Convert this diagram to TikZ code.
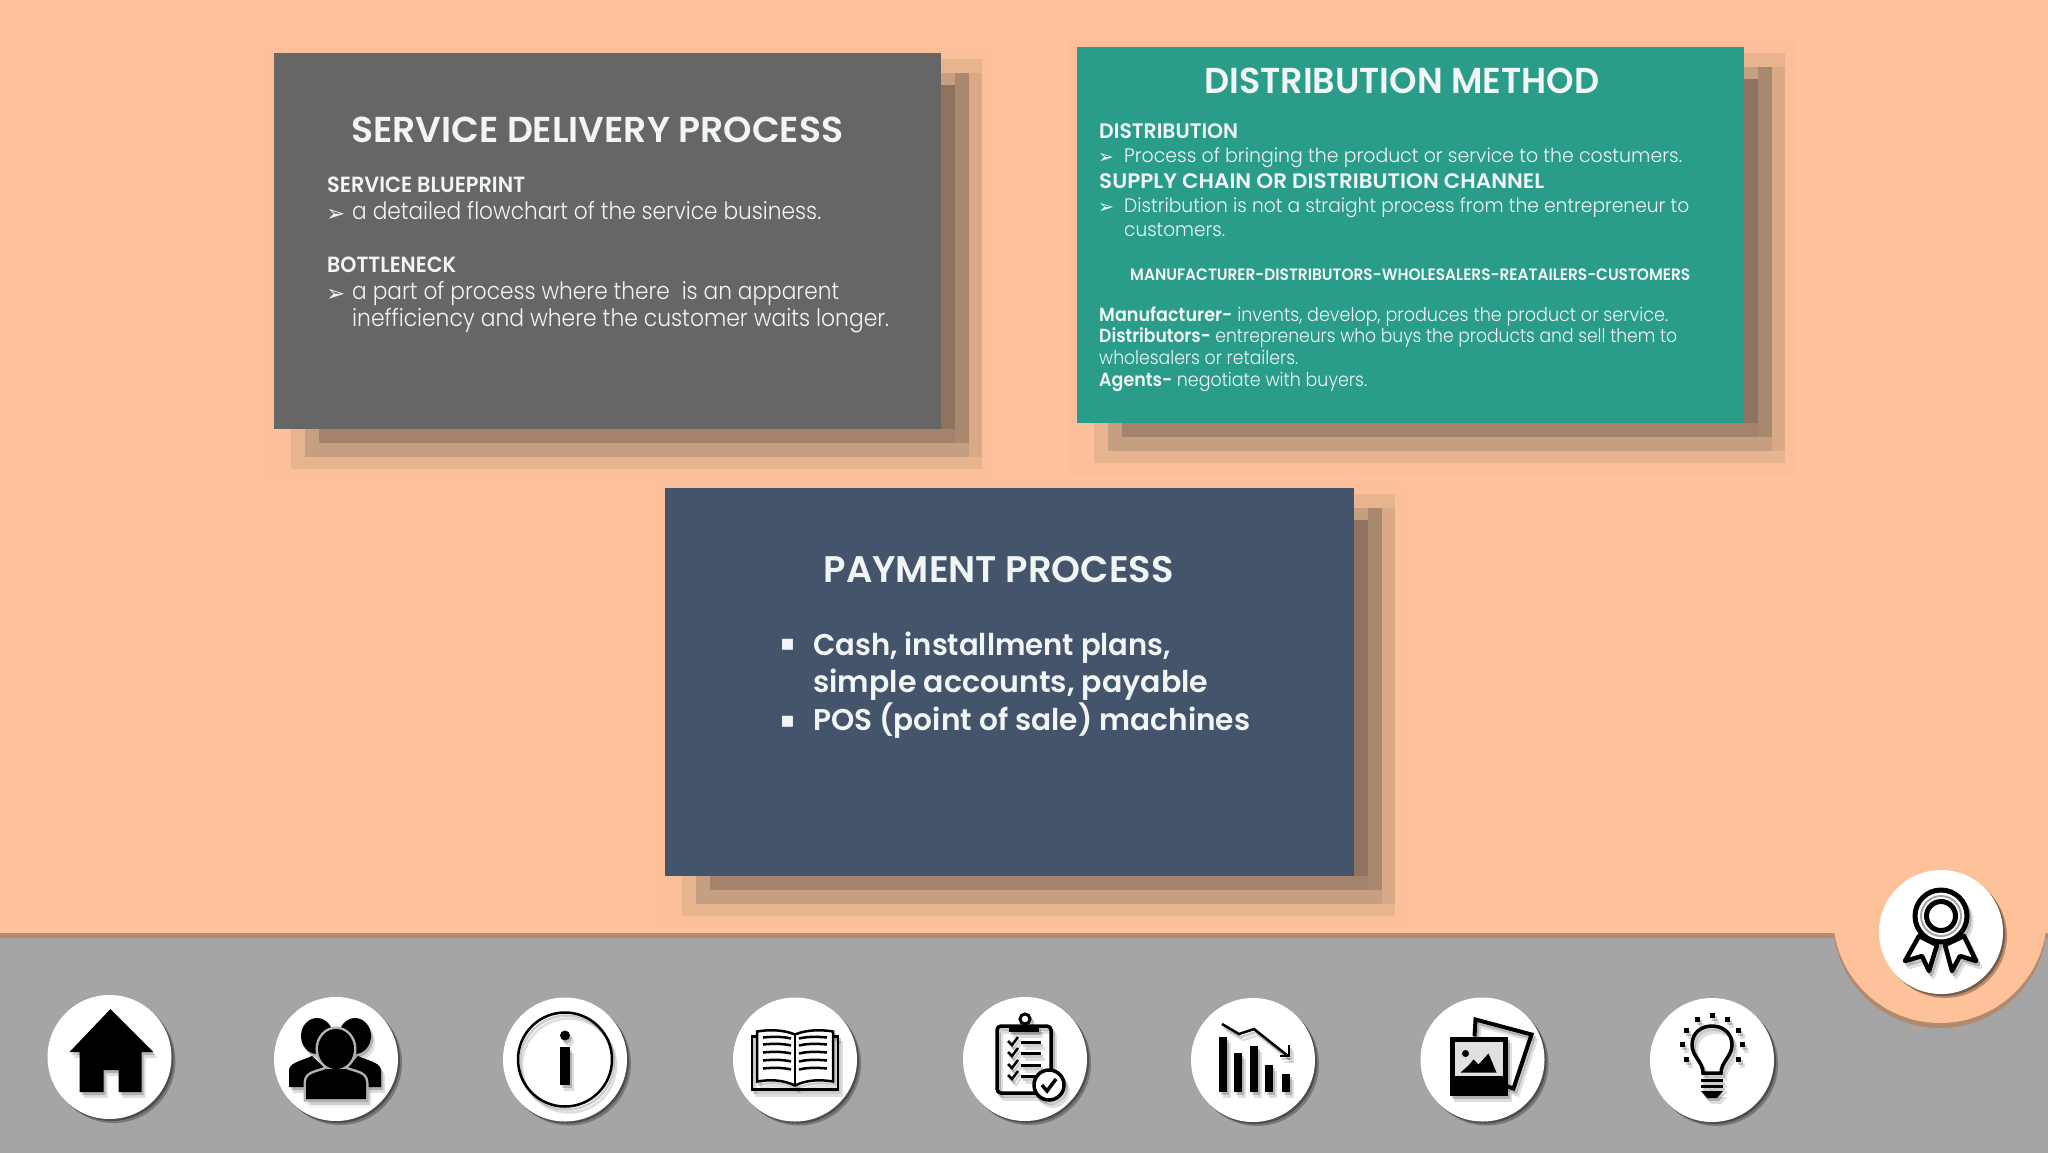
\documentclass[tikz,border=0pt]{standalone}
\usepackage{fontspec}
\usepackage{graphicx}
\setmainfont{Poppins Light}[BoldFont=Poppins SemiBold]
\newfontfamily\symfont{DejaVu Sans}
\newfontfamily\medfont{Poppins SemiBold}
\usetikzlibrary{shadows}
\definecolor{peach}{HTML}{FEC29A}
\definecolor{bargrey}{HTML}{A5A5A5}
\definecolor{barshade}{HTML}{B28A6E}
\definecolor{panelgrey}{HTML}{666666}
\definecolor{panelteal}{HTML}{2A9D8A}
\definecolor{panelslate}{HTML}{44546A}
\definecolor{shadeA}{HTML}{A5826B}
\definecolor{shadeB}{HTML}{C69F83}
\definecolor{shadeC}{HTML}{E8B48F}
\definecolor{shadeD}{HTML}{FBC099}
\definecolor{shadeRA}{HTML}{8F7360}
\definecolor{shadeRB}{HTML}{A98870}
\definecolor{shadeRC}{HTML}{DAA986}
\definecolor{softwhite}{HTML}{F2F5F5}
\newcommand{\fitline}[3]{\resizebox{#1pt}{\height}{\fontsize{#2pt}{#2pt}\selectfont #3}}
\newcommand{\panelshade}[4]{
  \fill[shadeD] (#1-8,#2-6) rectangle (#3+52,#4+52);
  \fill[shadeC] (#1+17,#2+6) rectangle (#3+41,#4+40);
  \fill[shadeB] (#1+31,#2+20) rectangle (#3+28,#4+28);
  \fill[shadeA] (#1+45,#2+32) rectangle (#3+14,#4+14);
  \fill[shadeRC] (#3+28,#2+20) rectangle (#3+41,#4+28);
  \fill[shadeRB] (#3+14,#2+20) rectangle (#3+28,#4+14);
  \fill[shadeRA] (#3,#2+32) rectangle (#3+14,#4);
}
\newcommand{\iconat}[2]{
  \pic[opacity=.13] at ([shift={(4,6)}]#1) {#2};
  \pic[opacity=.2] at ([shift={(2,3)}]#1) {#2};
  \pic at (#1) {#2};
}
\tikzset{
  panel/.style={anchor=north west, inner sep=0pt, outer sep=0pt},
  textline/.style={anchor=base west, inner sep=0pt, text=softwhite},
  bigmark/.style={textline, font=\symfont\fontsize{23pt}{23pt}\selectfont},
  smallmark/.style={textline, font=\symfont\fontsize{19pt}{19pt}\selectfont},
  iconcircle/.style={circle, fill=white, minimum size=124pt, inner sep=0pt,
    drop shadow={shadow xshift=4pt, shadow yshift=-4pt, opacity=.28, fill=black},
    drop shadow={shadow xshift=2pt, shadow yshift=-2pt, opacity=.35, fill=black}},
  homeicon/.pic={
    \fill (1,-48) -- (44,-5) -- (32,-5) -- (32,35) -- (9,35) -- (9,13) -- (-6,13) -- (-6,35)
      -- (-30,35) -- (-30,-5) -- (-40,-5) -- cycle;
  },
  peopleicon/.pic={
    \fill (-19,-23) ellipse [x radius=16, y radius=18];
    \fill (19,-23) ellipse [x radius=16, y radius=18];
    \fill (-47,28) -- (-47,12) .. controls (-47,4) and (-38,3) .. (-24,-3) -- (-10,10) -- (-30,28) -- cycle;
    \fill (45,28) -- (45,12) .. controls (45,4) and (36,3) .. (22,-3) -- (10,10) -- (30,28) -- cycle;
    \path[draw=gray!60, line width=5pt] (0,-10) ellipse [x radius=18, y radius=20];
    \path[draw=gray!60, line width=5pt] (-30,40) -- (-30,24) .. controls (-30,14) and (-20,14) .. (-10,10)
      -- (10,10) .. controls (20,14) and (30,14) .. (30,24) -- (30,40) -- cycle;
    \fill (0,-10) ellipse [x radius=18, y radius=20];
    \fill (-30,40) -- (-30,24) .. controls (-30,14) and (-20,14) .. (-10,10)
      -- (10,10) .. controls (20,14) and (30,14) .. (30,24) -- (30,40) -- cycle;
  },
  infoicon/.pic={
    \draw[line width=2.5pt] (0,0) circle [radius=47];
    \fill (0,-24) circle [radius=5];
    \fill (-5,-13) rectangle (5,25);
  },
  bookicon/.pic={
    \draw[line width=2.5pt] (-38,-23) -- (-43,-23) -- (-43,30) -- (43,30) -- (43,-23) -- (38,-23);
    \draw[line width=2.5pt, fill=white] (0,-25) .. controls (-12,-30) and (-26,-30) .. (-38,-28) -- (-38,22)
      .. controls (-26,20) and (-12,20) .. (0,26) .. controls (12,20) and (26,20) .. (38,22) -- (38,-28)
      .. controls (26,-30) and (12,-30) .. (0,-25) -- cycle;
    \draw[line width=2.5pt] (0,-25) -- (0,26);
    \foreach \rowy in {-22,-15,-7,1,9} {
      \draw[line width=2.5pt] (-32,\rowy) .. controls (-22,\rowy-1) and (-12,\rowy-1) .. (-4,\rowy+1);
      \draw[line width=2.5pt] (4,\rowy+1) .. controls (12,\rowy-1) and (22,\rowy-1) .. (32,\rowy);
    }
  },
  clipicon/.pic={
    \draw[line width=3.5pt, rounded corners=4pt] (-28,-33) rectangle (26,34);
    \draw[line width=3pt, fill=white] (0,-40) circle [radius=5];
    \fill (-16,-33) rectangle (14,-27);
    \foreach \rowy in {-18,-7,5,16} {
      \draw[line width=2.5pt] (-17,\rowy) -- (-13,\rowy+4) -- (-7,\rowy-4);
      \draw[line width=3pt] (-4,\rowy+1) -- (16,\rowy+1);
    }
    \draw[line width=3.5pt, fill=white] (24,26) circle [radius=15];
    \draw[line width=3.5pt] (17,26) -- (22,32) -- (31,20);
  },
  charticon/.pic={
    \fill (-34,-23) rectangle (-26,32);
    \fill (-19,-7) rectangle (-11,32);
    \fill (-3,-14) rectangle (5,32);
    \fill (12,5) rectangle (20,32);
    \fill (29,14) rectangle (37,32);
    \draw[line width=2.5pt] (-31,-36) -- (-14,-26) -- (1,-31) -- (35,-4);
    \draw[line width=2.5pt] (36,-15) -- (36,-4) -- (27,-4);
  },
  photoicon/.pic={
    \draw[line width=4pt] (-8,-23) -- (-7,-40) -- (49,-25) -- (31,29) -- (25,27);
    \fill (-33,-23) rectangle (25,36);
    \fill[white!88!black] (-28,-18) rectangle (20,16);
    \fill (-17,-6) circle [radius=3.5];
    \fill (-22,13) -- (-14,6) -- (-9,0) -- (-4,5) -- (6,-6) -- (14,13) -- cycle;
  },
  bulbicon/.pic={
    \draw[line width=3.5pt] (-9,13) .. controls (-9,2) and (-20,-4) .. (-20,-15)
      .. controls (-20,-28) and (-10,-34) .. (0,-34) .. controls (10,-34) and (20,-28) .. (20,-15)
      .. controls (20,-4) and (9,2) .. (9,13) -- cycle;
    \draw[line width=3pt] (-11,20) -- (11,20);
    \draw[line width=3pt] (-11,26) -- (11,26);
    \fill (-11,31) -- (11,31) -- (5,38) -- (-5,38) -- cycle;
    \foreach \rayx/\rayy in {-30/-16,-26/-30,-15/-41,0/-45,15/-41,26/-30,30/-16,26/-1,-26/-1} {
      \fill (\rayx-2.5,\rayy-2.5) rectangle (\rayx+2.5,\rayy+2.5);
    }
  },
  awardicon/.pic={
    \draw[line width=4.5pt, line join=round, fill=white] (-22,4) -- (-36,29) -- (-19,24) -- (-12,39) -- (-4,13) -- cycle;
    \draw[line width=4.5pt, line join=round, fill=white] (23,4) -- (35,29) -- (19,24) -- (11,39) -- (4,13) -- cycle;
    \draw[line width=5pt, fill=white] (0,-16) circle [radius=26];
    \draw[line width=2pt, gray!70] (0,-16) circle [radius=20];
    \draw[line width=5pt] (0,-16) circle [radius=14.5];
  },
}
\begin{document}
\begin{tikzpicture}[x=1pt,y=-1pt]
  \useasboundingbox (0,0) rectangle (2048,1152);
  \fill[bargrey] (-5,-5) rectangle (2053,1157);
  \begin{scope}[yshift=-5pt]
    \fill[barshade] (-5,-5) rectangle (2053,933);
    \fill[barshade] (1940,916) circle [radius=107];
  \end{scope}
  \fill[peach] (-5,-5) rectangle (2053,933);
  \fill[peach] (1940,916) circle [radius=107];

  \panelshade{274}{53}{941}{429}
  \panelshade{1077}{47}{1744}{423}
  \panelshade{665}{488}{1354}{876}

  \node[panel, fill=panelgrey, minimum width=667pt, minimum height=376pt] (service) at (274,53) {};
  \node[panel, fill=panelteal, minimum width=667pt, minimum height=376pt] (distribution) at (1077,47) {};
  \node[panel, fill=panelslate, minimum width=689pt, minimum height=388pt] (payment) at (665,488) {};

  \node[textline, font=\bfseries] (serviceTitle) at (351,142) {\fitline{492}{36}{SERVICE DELIVERY PROCESS}};
  \node[textline, font=\bfseries] (blueprintHead) at (327,192.5) {\fitline{198}{22}{SERVICE BLUEPRINT}};
  \node[bigmark] (blueprintMark) at (326,221) {➢};
  \node[textline] (blueprintText) at (352,219) {\fitline{469}{24}{a detailed flowchart of the service business.}};
  \node[textline, font=\bfseries] (bottleneckHead) at (327,272.5) {\fitline{129}{22}{BOTTLENECK}};
  \node[bigmark] (bottleneckMark) at (326,301) {➢};
  \node[textline] (bottleneckOne) at (352,299) {\fitline{487}{24}{a part of process where there \ is an apparent}};
  \node[textline] (bottleneckTwo) at (352,326) {\fitline{537}{24}{inefficiency and where the customer waits longer.}};

  \node[textline, font=\bfseries] (distTitle) at (1204,93) {\fitline{395}{36}{DISTRIBUTION METHOD}};
  \node[textline, font=\bfseries] (distHead) at (1099,138) {\fitline{139}{21}{DISTRIBUTION}};
  \node[smallmark] (distMark) at (1098,163.5) {➢};
  \node[textline] (distText) at (1124,162) {\fitline{558}{19.5}{Process of bringing the product or service to the costumers.}};
  \node[textline, font=\bfseries] (chainHead) at (1099,188) {\fitline{445}{21}{SUPPLY CHAIN OR DISTRIBUTION CHANNEL}};
  \node[smallmark] (chainMark) at (1098,213.5) {➢};
  \node[textline] (chainOne) at (1124,212) {\fitline{565}{19.5}{Distribution is not a straight process from the entrepreneur to}};
  \node[textline] (chainTwo) at (1124,236) {\fitline{101}{19.5}{customers.}};
  \node[textline, font=\bfseries] (chainFlow) at (1130,280) {\fitline{560}{16.5}{MANUFACTURER-DISTRIBUTORS-WHOLESALERS-REATAILERS-CUSTOMERS}};
  \node[textline] (makerText) at (1099,321) {\fitline{569}{19}{\textbf{Manufacturer-} invents, develop, produces the product or service.}};
  \node[textline] (distribOne) at (1099,342) {\fitline{578}{19}{\textbf{Distributors-} entrepreneurs who buys the products and sell them to}};
  \node[textline] (distribTwo) at (1099,364) {\fitline{199}{19}{wholesalers or retailers.}};
  \node[textline] (agentText) at (1099,386) {\fitline{268}{19}{\textbf{Agents-} negotiate with buyers.}};

  \node[textline, font=\bfseries] (payTitle) at (823.5,582) {\fitline{350}{37}{PAYMENT PROCESS}};
  \node[textline, font=\symfont\fontsize{22pt}{22pt}\selectfont] (cashMark) at (780,650) {▪};
  \node[textline, font=\medfont] (cashOne) at (813,655) {\fitline{358}{30}{Cash, installment plans,}};
  \node[textline, font=\medfont] (cashTwo) at (813,692) {\fitline{395}{30}{simple accounts, payable}};
  \node[textline, font=\symfont\fontsize{22pt}{22pt}\selectfont] (posMark) at (780,727) {▪};
  \node[textline, font=\medfont] (posText) at (813,730) {\fitline{437}{30}{POS (point of sale) machines}};

  \foreach \name/\cx/\cy in {home/109.5/1057, people/336/1059, info/565/1059.5, book/795/1059.5,
      clip/1025/1059, chart/1253/1060, photo/1482.5/1059.5, bulb/1712/1060, award/1941/932} {
    \node[iconcircle] (\name) at (\cx,\cy) {};
  }
  \iconat{home}{homeicon}
  \iconat{people}{peopleicon}
  \iconat{info}{infoicon}
  \iconat{book}{bookicon}
  \iconat{clip}{clipicon}
  \iconat{chart}{charticon}
  \iconat{photo}{photoicon}
  \iconat{bulb}{bulbicon}
  \iconat{award}{awardicon}
\end{tikzpicture}
\end{document}
